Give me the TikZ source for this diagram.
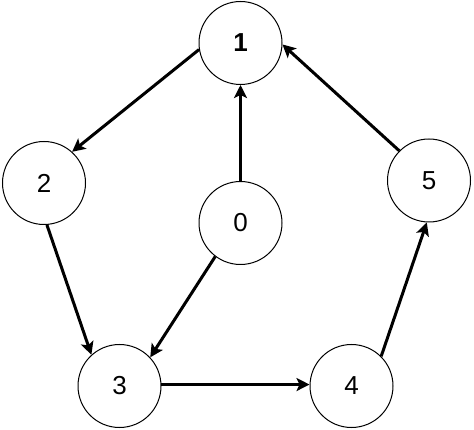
\documentclass[tikz,border=0pt]{standalone}
\usepackage{fontspec}
\setmainfont{Liberation Sans}
\usetikzlibrary{arrows.meta}
\begin{document}
\begin{tikzpicture}[x=1pt,y=-1pt,
  vertex/.style={circle,draw=black,line width=1pt,minimum size=83pt,inner sep=0pt,font=\fontsize{26}{26}\selectfont},
  edge/.style={line width=3pt,-{Stealth[length=13pt,width=13pt,inset=3pt]}}]
\useasboundingbox (0,0) rectangle (474,430);
\node[vertex] (n1) at (240.5,43) {\bfseries 1};
\node[vertex] (n2) at (44,183) {2};
\node[vertex] (n0) at (240.5,223) {0};
\node[vertex] (n5) at (429,180.5) {5};
\node[vertex] (n3) at (119.5,386) {3};
\node[vertex] (n4) at (351.5,386) {4};
\draw[edge] (n1.189) -- (n2.48);
\draw[edge] (n2.274) -- (n3.132);
\draw[edge] (n0.90) -- (n1.270);
\draw[edge] (n0.233) -- (n3.43);
\draw[edge] (n3.2) -- (n4.178);
\draw[edge] (n4.45) -- (n5.267);
\draw[edge] (n5.135) -- (n1.358);
\end{tikzpicture}
\end{document}
